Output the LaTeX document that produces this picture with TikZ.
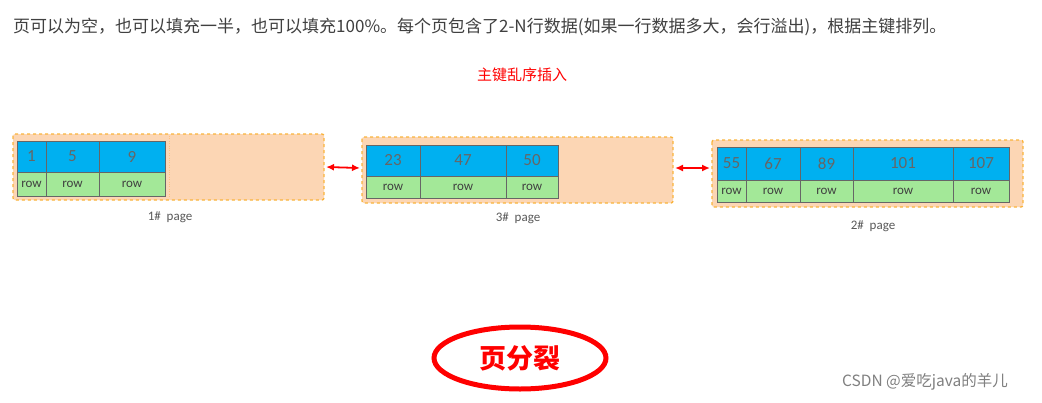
\documentclass[tikz,border=0pt]{standalone}
\usepackage{fontspec}
\usetikzlibrary{shapes.geometric,arrows.meta}
\setmainfont{Noto Sans CJK SC}
\newfontfamily\latf{Carlito}
\definecolor{keyblue}{RGB}{0,176,240}
\definecolor{rowgreen}{RGB}{163,232,152}
\definecolor{pagefill}{RGB}{252,214,180}
\definecolor{pagedash}{RGB}{250,180,60}
\begin{document}
\begin{tikzpicture}[x=1pt,y=-1pt,
 pagebox/.style={draw=pagedash,fill=pagefill,dashed,line width=1.3pt,rounded corners=2pt},
 keycell/.style={draw=black!60,fill=keyblue},
 rowcell/.style={draw=black!60,fill=rowgreen},
 lbl/.style={font=\latf\fontsize{13}{12}\selectfont,text=black!65},
 link/.style={{Latex[length=8pt,width=7pt]}-{Latex[length=8pt,width=7pt]},red,line width=1.8pt}]
\useasboundingbox (0,0) rectangle (1042,402);
\fill[white] (0,0) rectangle (1042,402);
\node[anchor=west,font=\fontsize{17}{17}\selectfont,text=black!75,inner sep=0pt] (top) at (13,27) {页可以为空，也可以填充一半，也可以填充100\%。每个页包含了2-N行数据(如果一行数据多大，会行溢出)，根据主键排列。};
\node[font=\fontsize{15}{15}\selectfont,text=red] (ttl) at (522,75) {主键乱序插入};
% page 1
\draw[pagebox] (13,134) rectangle (324,200);
\coordinate (p1l) at (13,167); \coordinate (p1r) at (324,167);
\draw[orange!50,dotted] (169,136) -- (169,198);
\foreach \a/\b/\t in {17/46/1,46/99/5,99/165/9}{
 \draw[keycell] (\a,141) rectangle (\b,172) node[midway,text=black!60,font=\latf\fontsize{17}{17}\selectfont]{\t};
 \draw[rowcell] (\a,172) rectangle (\b,196) node[midway,text=black!75,font=\latf\fontsize{13}{12}\selectfont]{row};}
\node[lbl] (l1) at (170,217) {1\#\ \ page};
% page 3
\draw[pagebox] (362,137) rectangle (673,203);
\coordinate (p3l) at (362,168); \coordinate (p3r) at (673,168);
\foreach \a/\b/\t in {366/420/23,420/506/47,506/558/50}{
 \draw[keycell] (\a,145) rectangle (\b,176) node[midway,text=black!60,font=\latf\fontsize{17}{17}\selectfont]{\t};
 \draw[rowcell] (\a,176) rectangle (\b,198) node[midway,text=black!75,font=\latf\fontsize{13}{12}\selectfont]{row};}
\node[lbl] (l3) at (518,218) {3\#\ \ page};
% page 2
\draw[pagebox] (712,140) rectangle (1023,207);
\coordinate (p2l) at (712,168);
\foreach \a/\b/\t in {717/746/55,746/800/67,800/853/89,853/953/101,953/1009/107}{
 \draw[keycell] (\a,147) rectangle (\b,180) node[midway,text=black!60,font=\latf\fontsize{17}{17}\selectfont]{\t};
 \draw[rowcell] (\a,180) rectangle (\b,202) node[midway,text=black!75,font=\latf\fontsize{13}{12}\selectfont]{row};}
\node[lbl] (l2) at (873,226) {2\#\ \ page};
\draw[link] ([xshift=2pt]p1r) -- ([xshift=-2pt]p3l);
\draw[link] ([xshift=2pt]p3r) -- ([xshift=-2pt]p2l);
% split
\node[draw=red,line width=5pt,ellipse,minimum width=172pt,minimum height=62pt,inner sep=0pt,font=\fontsize{27}{27}\selectfont\bfseries,text=red] (split) at (520,358) {页分裂};
\node[font=\fontsize{15.5}{15}\selectfont,text=black!50] (wm) at (925,382) {CSDN @爱吃java的羊儿};
\end{tikzpicture}
\end{document}
